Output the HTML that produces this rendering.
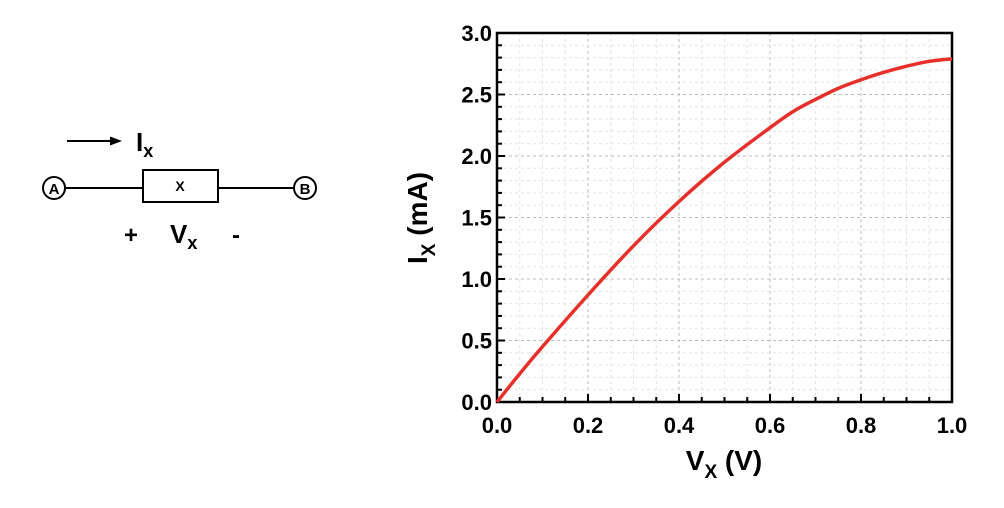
<!DOCTYPE html>
<html><head><meta charset="utf-8"><style>
body{margin:0;background:#fff;width:1004px;height:503px;overflow:hidden;font-family:"Liberation Sans",Arial,sans-serif}
</style></head><body>
<svg width="1004" height="503" font-family="Liberation Sans, Arial, sans-serif">
<g>
  <line x1="67" y1="141" x2="112" y2="141" stroke="#000" stroke-width="2"/>
  <polygon points="122,141 110,136.5 110,145.5" fill="#000"/>
  <text x="136" y="151" font-size="26" font-weight="bold">I<tspan font-size="18" dy="6">x</tspan></text>
  <circle cx="54" cy="188" r="11" fill="#fff" stroke="#000" stroke-width="2"/>
  <text x="54" y="194" font-size="15" font-weight="bold" text-anchor="middle">A</text>
  <circle cx="305" cy="188" r="11" fill="#fff" stroke="#000" stroke-width="2"/>
  <text x="305" y="194" font-size="15" font-weight="bold" text-anchor="middle">B</text>
  <line x1="65" y1="188" x2="143" y2="188" stroke="#000" stroke-width="2"/>
  <line x1="218" y1="188" x2="294" y2="188" stroke="#000" stroke-width="2"/>
  <rect x="143" y="170" width="75" height="32" fill="#fff" stroke="#000" stroke-width="2"/>
  <text x="180" y="191" font-size="14" font-weight="bold" text-anchor="middle">X</text>
  <text x="124" y="243" font-size="24" font-weight="bold">+</text>
  <text x="170" y="243" font-size="26" font-weight="bold">V<tspan font-size="18" dy="6">x</tspan></text>
  <text x="232" y="243" font-size="24" font-weight="bold">-</text>
</g>
<g id="chart"></g>
</svg>
<script>
const xTicks=[0,0.2,0.4,0.6,0.8,1.0];
const xTickLabels=["0.0","0.2","0.4","0.6","0.8","1.0"];
const yTicks=[0,0.5,1.0,1.5,2.0,2.5,3.0];
const yTickLabels=["0.0","0.5","1.0","1.5","2.0","2.5","3.0"];
const vx=[0,0.05,0.1,0.2,0.3,0.4,0.5,0.6,0.65,0.7,0.75,0.8,0.85,0.9,0.95,1.0];
const ix=[0,0.23,0.45,0.87,1.27,1.63,1.95,2.23,2.36,2.46,2.55,2.62,2.68,2.73,2.77,2.79];
const L=497,R=952,T=33,B=402;
const sx=v=>L+(R-L)*v/1.0, sy=v=>B-(B-T)*v/3.0;
const ns="http://www.w3.org/2000/svg", g=document.getElementById('chart');
function mk(t,a){const e=document.createElementNS(ns,t);for(const k in a)e.setAttribute(k,a[k]);g.appendChild(e);return e;}
for(let i=1;i<20;i++){const x=sx(i*0.05);let e=mk('line',{x1:x,x2:x,y1:T,y2:B,stroke:i%4==0?'#bbb':'#e4e4e4','stroke-dasharray':'3,3','stroke-width':1});

}
for(let i=1;i<30;i++){const y=sy(i*0.1);let e=mk('line',{x1:L,x2:R,y1:y,y2:y,stroke:i%5==0?'#bbb':'#e4e4e4','stroke-dasharray':'3,3','stroke-width':1});

}
for(let i=1;i<20;i++){const x=sx(i*0.05);let e=mk('line',{x1:x,x2:x,y1:B,y2:B-(i%4==0?8:5),stroke:'#000','stroke-width':2});

}
for(let i=1;i<30;i++){const y=sy(i*0.1);let e=mk('line',{x1:L,x2:L+(i%5==0?8:5),y1:y,y2:y,stroke:'#000','stroke-width':2});

}
let f=mk('rect',{x:L,y:T,width:R-L,height:B-T,fill:'none',stroke:'#000','stroke-width':2.5});


// smooth catmull-rom curve
const P=vx.map((v,i)=>[sx(v),sy(ix[i])]);
let d='M'+P[0][0]+','+P[0][1];
for(let i=0;i<P.length-1;i++){const p0=P[i-1]||P[i],p1=P[i],p2=P[i+1],p3=P[i+2]||P[i+1];
d+=' C'+(p1[0]+(p2[0]-p0[0])/6)+','+(p1[1]+(p2[1]-p0[1])/6)+' '+(p2[0]-(p3[0]-p1[0])/6)+','+(p2[1]-(p3[1]-p1[1])/6)+' '+p2[0]+','+p2[1];}
let p=mk('path',{d:d,fill:'none',stroke:'#e8302a','stroke-width':3.5,'stroke-linejoin':'round'});


xTicks.forEach((v,i)=>{let t=mk('text',{x:sx(v),y:B+31,'font-size':22,'font-weight':'bold','text-anchor':'middle'});t.textContent=xTickLabels[i];

});
yTicks.forEach((v,i)=>{let t=mk('text',{x:L-5,y:sy(v)+8,'font-size':22,'font-weight':'bold','text-anchor':'end'});t.textContent=yTickLabels[i];

});
let xt=mk('text',{x:724,y:470,'font-size':28,'font-weight':'bold','text-anchor':'middle'});
xt.innerHTML='V<tspan font-size="19" dy="8">X</tspan><tspan dy="-8"> (V)</tspan>';


let yt=mk('text',{x:0,y:0,'font-size':28,'font-weight':'bold','text-anchor':'middle',transform:'translate(427,218) rotate(-90)'});
yt.innerHTML='I<tspan font-size="19" dy="8">X</tspan><tspan dy="-8"> (mA)</tspan>';


</script>
</body></html>
